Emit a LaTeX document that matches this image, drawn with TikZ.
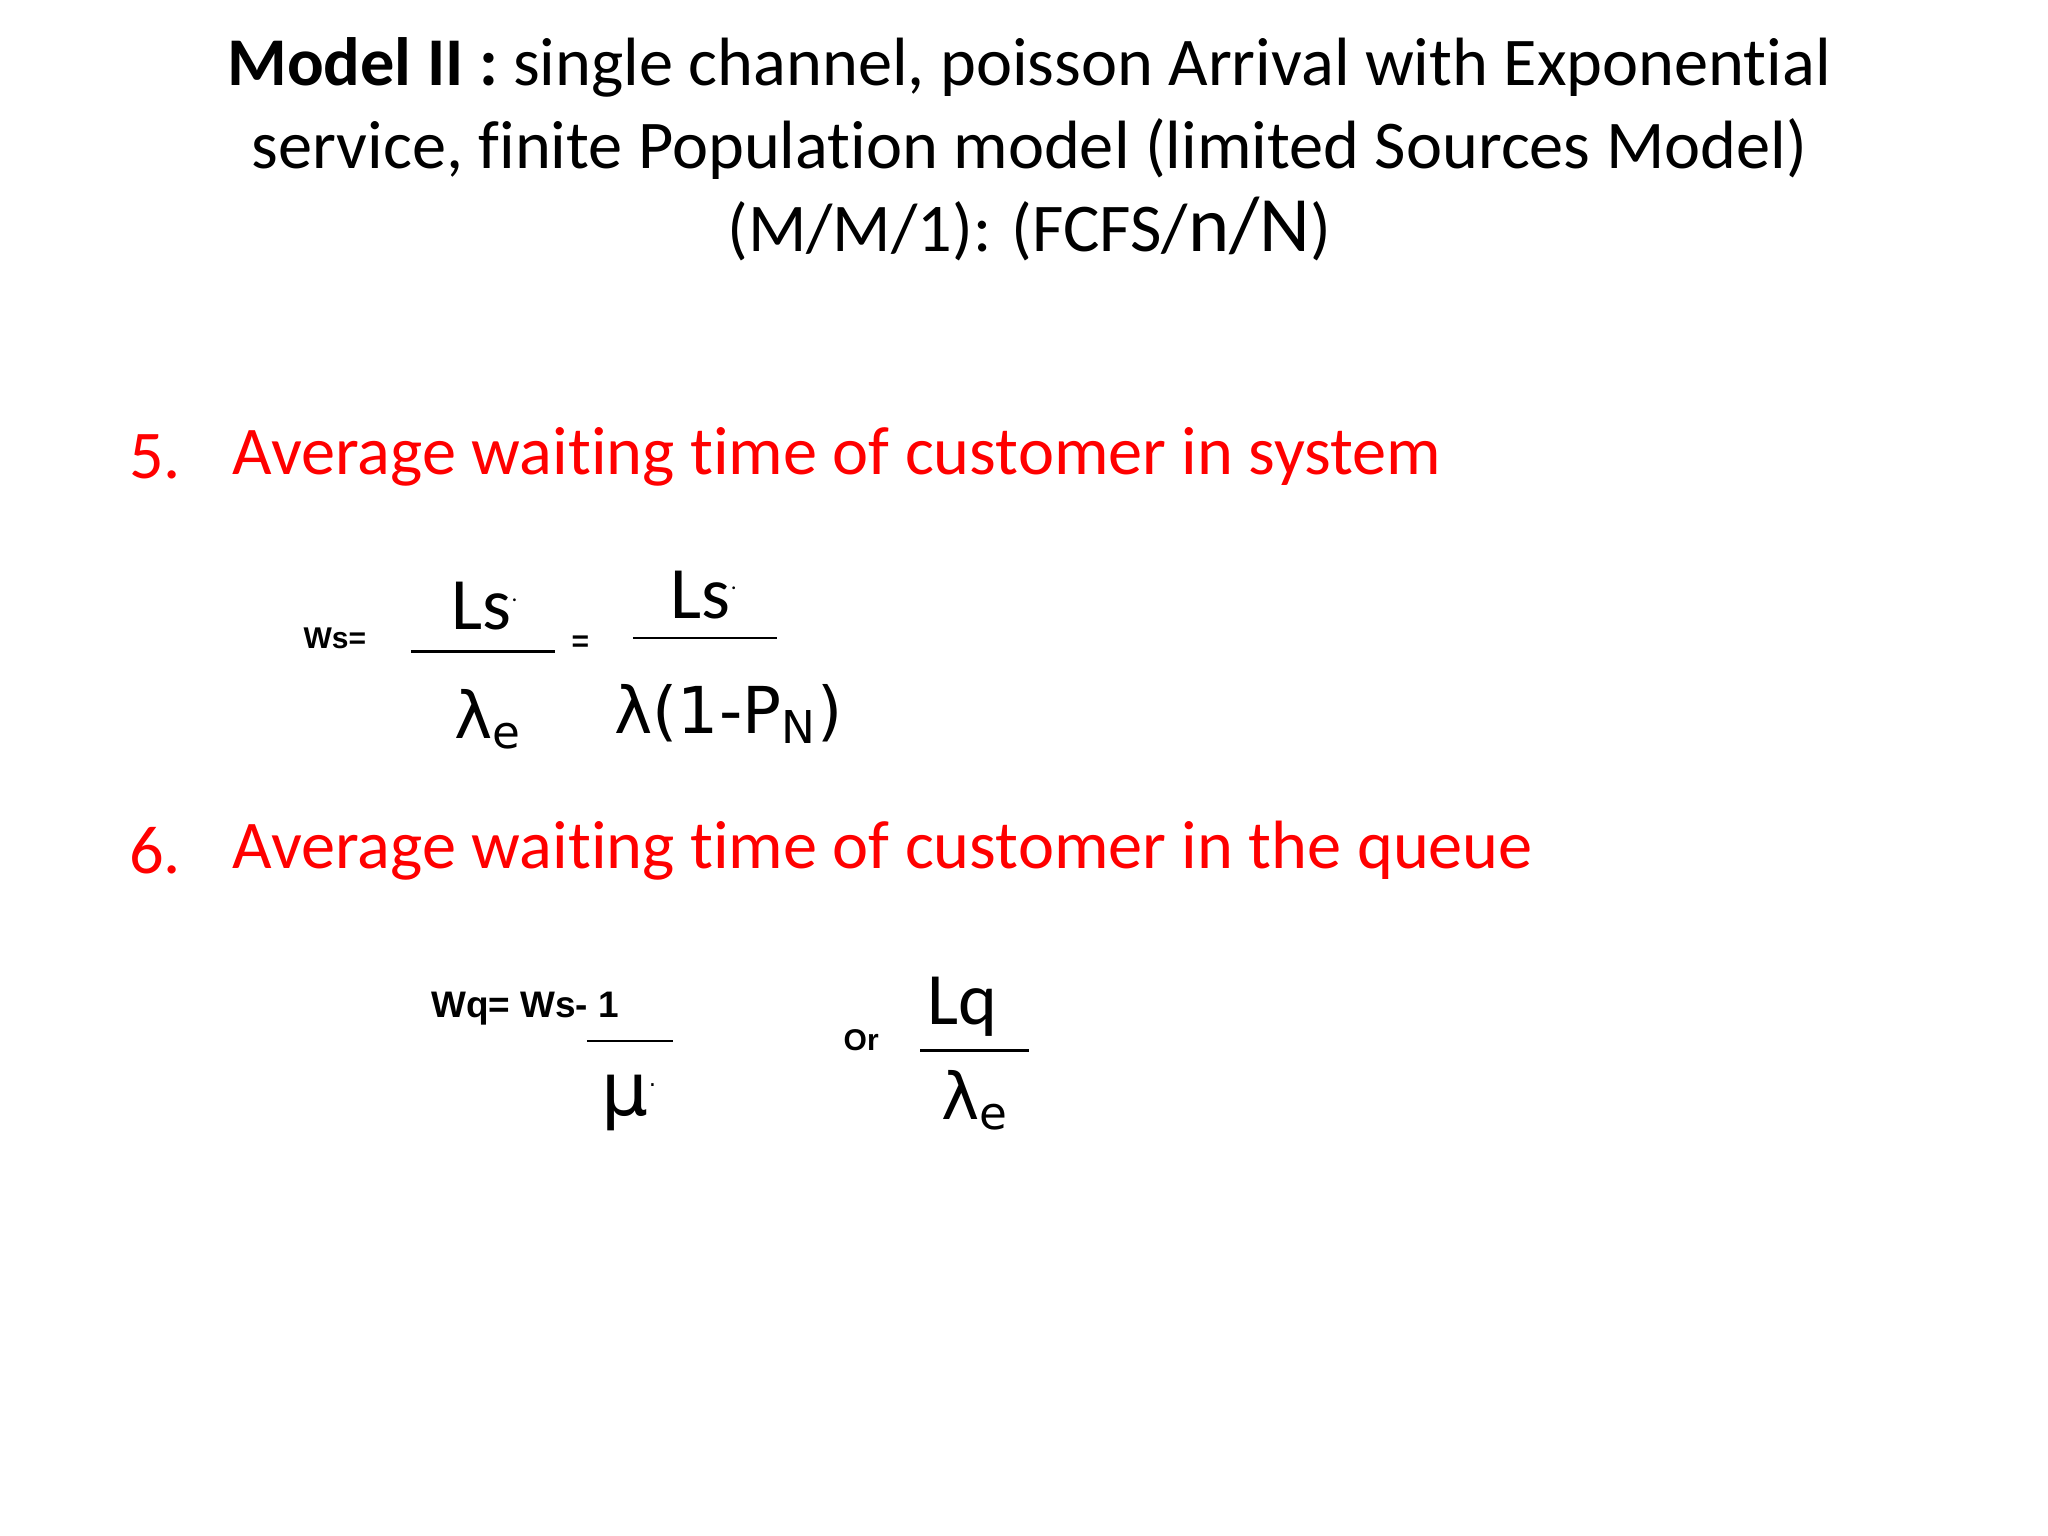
\documentclass[tikz,border=0pt]{standalone}
\usepackage{fontspec}
\setmainfont{Carlito}[Ligatures=NoCommon]
\newfontfamily\arialfont{Liberation Sans}
\newfontfamily\djfont{DejaVu Sans}
\begin{document}
\begin{tikzpicture}[x=0.01cm,y=-0.01cm,
  title/.style={font=\fontsize{14.8}{18}\selectfont,align=center},
  item/.style={font=\fontsize{14.8}{17}\selectfont,text=red,anchor=west},
  big/.style={font=\fontsize{16}{18}\selectfont},
  small/.style={font=\arialfont\bfseries\fontsize{6.5}{8}\selectfont},
  frac/.style={line width=0.6pt}]
\useasboundingbox (0,0) rectangle (1560,1170);
\node[title] (t) at (784,114) {\textbf{Model II :} single channel, poisson Arrival with Exponential\\ service, finite Population model (limited Sources Model)\\ (M/M/1): (FCFS/{\fontsize{17}{18}\selectfont n/N})};
\node[item] (i5n) at (86,348) {5.};
\node[item] (i5) at (165,348) {Average waiting time of customer in system};
\node[item] (i6n) at (86,648) {6.};
\node[item] (i6) at (165,648) {Average waiting time of customer in the queue};
% Ws formula
\node[small] (ws) at (255,486) {Ws=};
\node[big] (ls1) at (370,462) {Ls\textsuperscript{\tiny.}};
\draw[frac] (313,496) coordinate (a1) -- (423,496) coordinate (a2);
\node[big] (le1) at (372,548) {\djfont\fontsize{14}{16}\selectfont λ\textsubscript{e}};
\node[small] (eq) at (442,490) {=};
\node[big] (ls2) at (537,453) {Ls\textsuperscript{\tiny.}};
\draw[frac] (482,486) coordinate (b1) -- (592,486) coordinate (b2);
\node[big] (le2) at (555,544) {\djfont\fontsize{14}{16}\selectfont λ(1-P\textsubscript{N})};
% Wq formula
\node[small,font=\arialfont\bfseries\fontsize{8}{10}\selectfont] (wq) at (400,768) {Wq= Ws- 1};
\draw[frac] (447,793) coordinate (c1) -- (513,793) coordinate (c2);
\node[big] (mu) at (480,840) {\djfont\fontsize{16}{18}\selectfont μ\textsuperscript{\tiny.}};
\node[small] (or) at (656,792) {Or};
\node[big] (lq) at (733,767) {Lq};
\draw[frac] (701,800) coordinate (d1) -- (784,800) coordinate (d2);
\node[big] (le3) at (743,838) {\djfont\fontsize{14}{16}\selectfont λ\textsubscript{e}};
\end{tikzpicture}
\end{document}
